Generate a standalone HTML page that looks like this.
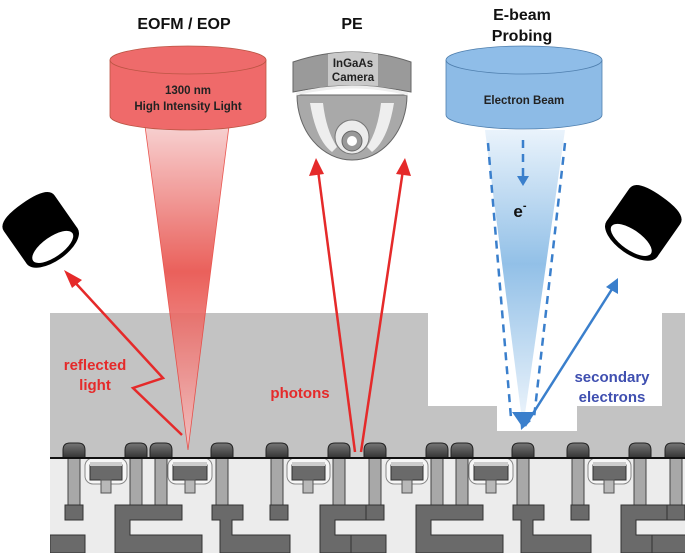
<!DOCTYPE html>
<html><head><meta charset="utf-8"><style>
html,body{margin:0;padding:0;background:#fff;}
svg{display:block;font-family:"Liberation Sans",Arial,sans-serif;font-weight:bold;}
</style></head><body>
<svg width="685" height="553" viewBox="0 0 685 553" xmlns="http://www.w3.org/2000/svg">
<defs>
<linearGradient id="rgv" x1="0" y1="0" x2="0" y2="1">
<stop offset="0" stop-color="#f7cccc"/><stop offset="0.45" stop-color="#e8504a"/><stop offset="1" stop-color="#f6c0c0"/></linearGradient>
<linearGradient id="bgv" x1="0" y1="0" x2="0" y2="1">
<stop offset="0" stop-color="#e6f1fb"/><stop offset="0.45" stop-color="#7fb5e3"/><stop offset="1" stop-color="#eef5fc"/></linearGradient>
<linearGradient id="dome" x1="0" y1="0" x2="0" y2="1">
<stop offset="0" stop-color="#777"/><stop offset="1" stop-color="#333"/></linearGradient>
<clipPath id="clip"><rect x="50" y="440" width="635" height="113"/></clipPath>
<g id="unit">
 <g fill="#f6f6f6" stroke="#888" stroke-width="1">
  <rect x="85" y="458" width="42" height="26" rx="8"/>
  <rect x="168" y="458" width="44" height="26" rx="8"/>
  <rect x="287" y="458" width="43" height="26" rx="8"/>
 </g>
 <g fill="#6a6a6a" stroke="#333" stroke-width="1">
  <rect x="90" y="465" width="32" height="15"/>
  <rect x="173" y="465" width="34" height="15"/>
  <rect x="292" y="465" width="33" height="15"/>
 </g>
 <g fill="#b8b8b8" stroke="#555" stroke-width="1">
  <rect x="101" y="480" width="10" height="13"/>
  <rect x="185" y="480" width="10" height="13"/>
  <rect x="303" y="480" width="10" height="13"/>
  <rect x="90" y="462" width="32" height="4" fill="#ccc" stroke="none"/>
  <rect x="173" y="462" width="34" height="4" fill="#ccc" stroke="none"/>
  <rect x="292" y="462" width="33" height="4" fill="#ccc" stroke="none"/>
 </g>
 <g fill="#a8a8a8" stroke="#444" stroke-width="1">
  <rect x="68" y="458" width="12" height="47"/>
  <rect x="130" y="458" width="12" height="47"/>
  <rect x="155" y="458" width="12" height="47"/>
  <rect x="216" y="458" width="12" height="47"/>
  <rect x="271" y="458" width="12" height="47"/>
  <rect x="333" y="458" width="12" height="47"/>
 </g>
 <g fill="#6a6a6a" stroke="#333" stroke-width="1">
  <rect x="65" y="505" width="18" height="15"/>
  <path d="M115 505H182V520H130V535H202V553H115Z"/>
  <path d="M212 505H243V520H232V535H290V553H220V520H212Z"/>
  <rect x="270" y="505" width="18" height="15"/>
  <path d="M320 505H380V520H335V535H380V553H320Z"/>
  <rect x="50" y="535" width="35" height="18"/>
 </g>
 <g fill="url(#dome)" stroke="#222" stroke-width="1">
  <path d="M63 458V450Q63 443 70 443H78Q85 443 85 450V458Z"/>
  <path d="M125 458V450Q125 443 132 443H140Q147 443 147 450V458Z"/>
  <path d="M150 458V450Q150 443 157 443H165Q172 443 172 450V458Z"/>
  <path d="M211 458V450Q211 443 218 443H226Q233 443 233 450V458Z"/>
  <path d="M266 458V450Q266 443 273 443H281Q288 443 288 450V458Z"/>
  <path d="M328 458V450Q328 443 335 443H343Q350 443 350 450V458Z"/>
 </g>
</g>
</defs>

<path d="M50 313H428V406H497V431H577V406H662V313H685V458H50Z" fill="#c3c3c3"/>
<rect x="50" y="458" width="635" height="95" fill="#ececec"/>
<g clip-path="url(#clip)">
 <use href="#unit"/>
 <use href="#unit" transform="translate(301,0)"/>
 <use href="#unit" transform="translate(602,0)"/>
</g>
<line x1="50" y1="458" x2="685" y2="458" stroke="#111" stroke-width="2"/>

<!-- EOFM -->
<text x="184" y="29" font-size="16" text-anchor="middle" fill="#111">EOFM / EOP</text>
<polygon points="145,126 229,126 188,450" fill="url(#rgv)" opacity="0.9" stroke="#e8453f" stroke-width="0.8"/>
<path d="M110 60V116A78 14 0 0 0 266 116V60Z" fill="#ef6a6a" stroke="#b54" stroke-width="0.8"/>
<ellipse cx="188" cy="60" rx="78" ry="14" fill="#ee6b6b" stroke="#b54" stroke-width="0.8"/>
<text x="188" y="94" font-size="11.5" text-anchor="middle" fill="#222">1300 nm</text>
<text x="188" y="110" font-size="11.5" text-anchor="middle" fill="#222">High Intensity Light</text>

<polyline points="182,435 133,388 163,378 70,277" fill="none" stroke="#e52a2a" stroke-width="2.5"/>
<polygon points="64,270 82,280 72,288" fill="#e52a2a"/>
<text x="95" y="370" font-size="15" text-anchor="middle" fill="#e52a2a">reflected</text>
<text x="95" y="390" font-size="15" text-anchor="middle" fill="#e52a2a">light</text>

<!-- lenses -->
<g transform="translate(43,233) rotate(-35)">
 <path d="M-31 16V-24Q-31 -36 0 -36Q31 -36 31 -24V16Z" fill="#000"/>
 <ellipse cx="0" cy="16" rx="31" ry="15" fill="#000"/>
 <ellipse cx="0" cy="17" rx="24" ry="10" fill="#fff"/>
</g>
<g transform="translate(641,226) rotate(35)">
 <path d="M-31 16V-24Q-31 -36 0 -36Q31 -36 31 -24V16Z" fill="#000"/>
 <ellipse cx="0" cy="16" rx="31" ry="15" fill="#000"/>
 <ellipse cx="0" cy="17" rx="24" ry="10" fill="#fff"/>
</g>

<!-- PE -->
<text x="352" y="29" font-size="16" text-anchor="middle" fill="#111">PE</text>
<path d="M297 95A55 65 0 0 0 407 95Z" fill="#a9a9a9" stroke="#666" stroke-width="1"/>
<path d="M310 103Q316 140 332 152L337 147Q326 130 323 103Z" fill="#eee"/>
<path d="M394 103Q388 140 372 152L367 147Q378 130 381 103Z" fill="#eee"/>
<circle cx="352" cy="137" r="17" fill="#ececec" stroke="#777"/>
<circle cx="352" cy="141" r="10" fill="#999" stroke="#666"/>
<circle cx="352" cy="141" r="5" fill="#fff"/>
<path d="M293 62Q352 42 411 62V92Q352 80 293 92Z" fill="#9a9a9a" stroke="#666" stroke-width="1"/>
<path d="M328 54Q352 50 378 54V86Q352 84 328 86Z" fill="#c9c9c9"/>
<path d="M296 94Q352 80 408 94" stroke="#eee" stroke-width="3" fill="none"/>
<text x="353" y="67" font-size="11.5" text-anchor="middle" fill="#222">InGaAs</text>
<text x="353" y="81" font-size="11.5" text-anchor="middle" fill="#222">Camera</text>
<line x1="355" y1="452" x2="318" y2="170" stroke="#e52a2a" stroke-width="2.5"/>
<polygon points="316,158 309,176 324,174" fill="#e52a2a"/>
<line x1="361" y1="452" x2="403" y2="170" stroke="#e52a2a" stroke-width="2.5"/>
<polygon points="405,158 396,174 411,176" fill="#e52a2a"/>
<text x="300" y="398" font-size="15" text-anchor="middle" fill="#e52a2a">photons</text>

<!-- E-beam -->
<text x="522" y="20" font-size="16" text-anchor="middle" fill="#111">E-beam</text>
<text x="522" y="41" font-size="16" text-anchor="middle" fill="#111">Probing</text>
<polygon points="485,130 565,130 523,428" fill="url(#bgv)" opacity="0.85"/>
<line x1="488" y1="143" x2="511" y2="418" stroke="#3a7fcc" stroke-width="2.5" stroke-dasharray="8,6"/>
<line x1="565" y1="143" x2="534" y2="418" stroke="#3a7fcc" stroke-width="2.5" stroke-dasharray="8,6"/>
<line x1="523" y1="140" x2="523" y2="176" stroke="#3a7fcc" stroke-width="2.5" stroke-dasharray="8,6"/>
<polygon points="517,176 529,176 523,186" fill="#3a7fcc"/>
<polygon points="512,412 534,412 523,428" fill="#3a7fcc"/>
<path d="M446 60V115A78 14 0 0 0 602 115V60Z" fill="#8dbbe6" stroke="#4f7fae" stroke-width="0.8"/>
<ellipse cx="524" cy="60" rx="78" ry="14" fill="#8fbde8" stroke="#4f7fae" stroke-width="0.8"/>
<text x="524" y="104" font-size="11.5" text-anchor="middle" fill="#222">Electron Beam</text>
<text x="520" y="217" font-size="17" text-anchor="middle" fill="#111">e<tspan font-size="11" dy="-8">-</tspan></text>
<line x1="525" y1="426" x2="614" y2="286" stroke="#3a7fcc" stroke-width="2.5"/>
<polygon points="618,278 606,287 618,294" fill="#3a7fcc"/>
<polygon points="521,430 520,415 531,421" fill="#3a7fcc"/>
<text x="612" y="382" font-size="15" text-anchor="middle" fill="#3f4fb0">secondary</text>
<text x="612" y="402" font-size="15" text-anchor="middle" fill="#3f4fb0">electrons</text>
</svg>
</body></html>
